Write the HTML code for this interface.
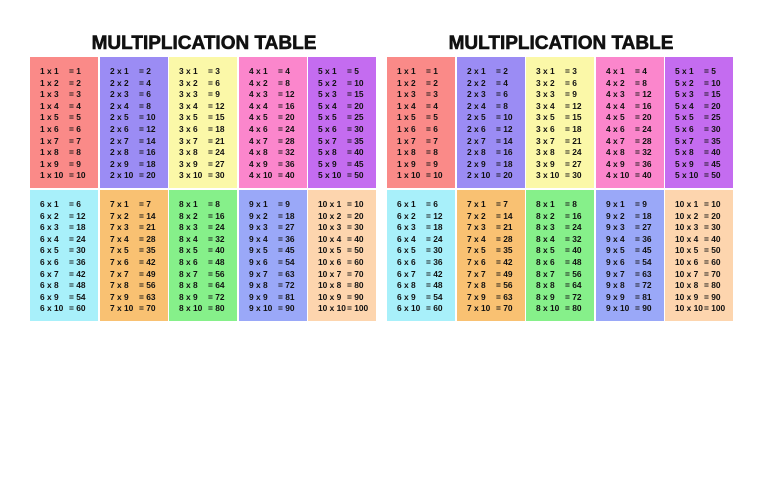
<!DOCTYPE html>
<html><head><meta charset="utf-8"><style>
body{margin:0;width:768px;height:503px;background:#fff;position:relative;overflow:hidden;font-family:"Liberation Sans",sans-serif}
.title{position:absolute;top:33px;font-weight:900;font-size:19px;color:#111;text-align:center;width:348px;-webkit-text-stroke:0.6px #111}
.cell{position:absolute;box-sizing:border-box}
.ln{position:absolute;font-size:8.4px;font-weight:bold;color:#111;white-space:pre}
</style></head><body>
<div id="root"></div>
<script>
const colors=["#fa8a88","#9b8cf4","#fbf8a8","#fb86cc","#c46cf0","#a8f0fa","#f9c172","#86f08a","#9aa8f8","#fdd5ae"];
const tables=[30,387];
const colX=[0,70,139,209,278];
const colW=68;
const rowY=[57,190];
const rowH=131;
const root=document.getElementById('root');
tables.forEach((tx,ti)=>{
  const t=document.createElement('div');
  t.className='title';t.style.left=(tx)+'px';t.textContent='MULTIPLICATION TABLE';
  
  
  root.appendChild(t);
  for(let n=1;n<=10;n++){
    const r=n<=5?0:1,c=(n-1)%5;
    const cell=document.createElement('div');
    cell.className='cell';
    cell.style.left=(tx+colX[c])+'px';cell.style.top=rowY[r]+'px';
    cell.style.width=colW+'px';cell.style.height=rowH+'px';
    cell.style.background=colors[n-1];
    
    
    root.appendChild(cell);
    for(let k=1;k<=10;k++){
      const a=document.createElement('div');a.className='ln';
      a.style.left='10px';a.style.top=(9+(k-1)*11.6)+'px';
      a.textContent=n+' x '+k;
      
      
      cell.appendChild(a);
      const b=document.createElement('div');b.className='ln';
      b.style.left='39px';b.style.top=(9+(k-1)*11.6)+'px';
      b.textContent='= '+(n*k);
      
      
      cell.appendChild(b);
    }
  }
});
</script>
</body></html>
